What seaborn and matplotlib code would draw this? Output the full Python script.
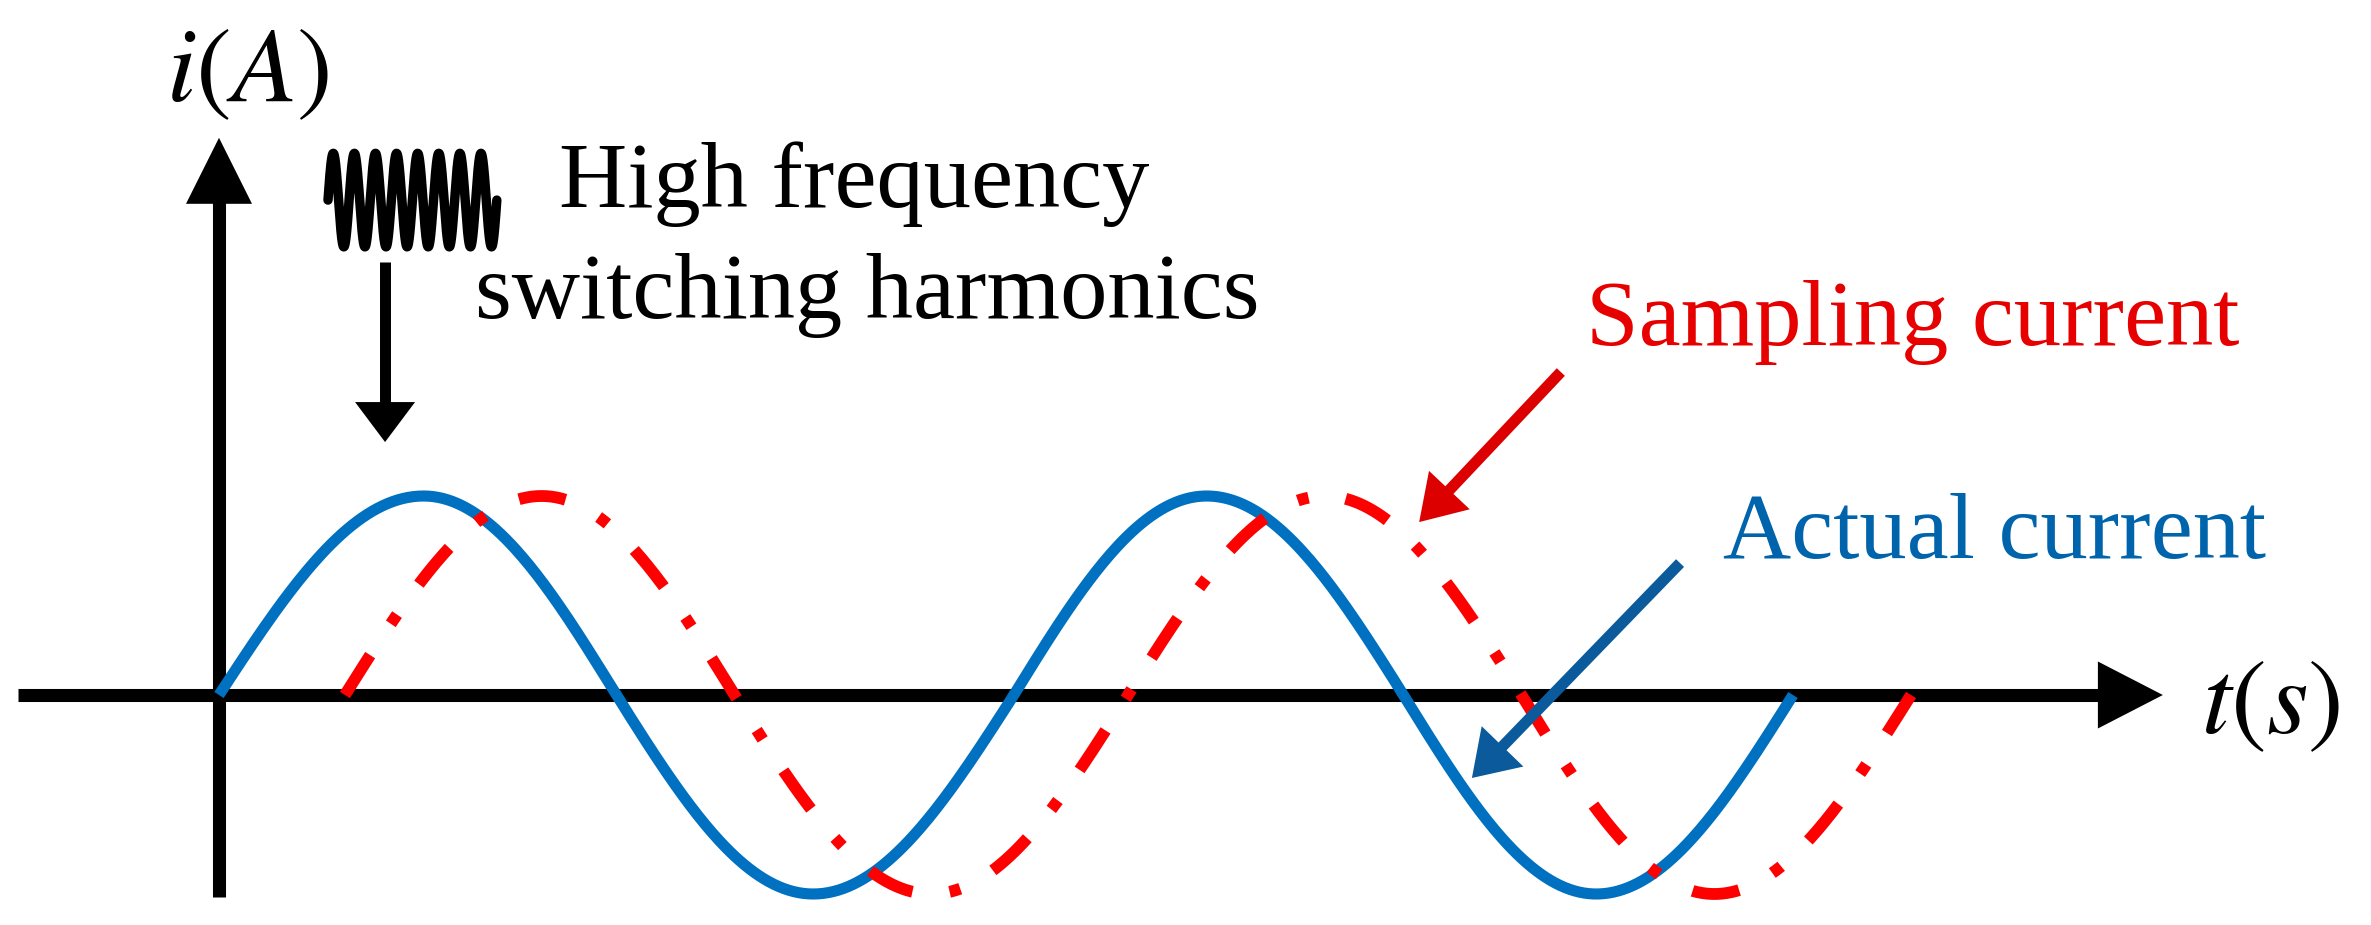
#!/usr/bin/env python3
"""
Sketch of sampled vs actual inverter current (sampling delay + switching ripple).
Output: out.png
"""
import numpy as np
import seaborn as sns
import matplotlib.pyplot as plt

# key points: time (ms) and current (per unit)
actual_t = [0.0, 5.2, 10.1, 15.1, 20.2, 25.1, 30.1, 35.0, 40.0]
actual_i = [0, 1, 0, -1, 0, 1, 0, -1, 0]
sampled_t = [3.2, 8.2, 13.1, 18.1, 23.1, 28.1, 33.1, 38.0, 43.0]
sampled_i = [0, 1, 0, -1, 0, 1, 0, -1, 0]

labels = {
    'y': r'$i(A)$',
    'x': r'$t(s)$',
    'hf1': 'High frequency',
    'hf2': 'switching harmonics',
    'sampled': 'Sampling current',
    'actual': 'Actual current',
}

BLUE = '#0070C0'
BLUE_TXT = '#0064AC'
BLUE_ARR = '#0A5A9C'
RED = '#FF0000'
RED_TXT = '#E60000'
RED_ARR = '#DD0000'

# image layout: origin of the sketch axes and scale (pixels)
W, H = 2371, 925
X0, Y0 = 219, 695
PX_MS, PX_PU = 39.35, 199.0

sns.set_theme(style='white')
plt.rcParams['font.family'] = ['Liberation Serif', 'DejaVu Serif']
plt.rcParams['mathtext.fontset'] = 'stix'
plt.rcParams['lines.scale_dashes'] = False
plt.rcParams['text.color'] = 'black'


def smooth_wave(t_pts, v_pts, n=80):
    """Join zero/peak key points with quarter-wave arcs."""
    ts, vs = [], []
    for (t0, v0), (t1, v1) in zip(zip(t_pts, v_pts), zip(t_pts[1:], v_pts[1:])):
        s = np.linspace(0, 1, n, endpoint=False)
        if v0 == 0:
            shape = v1 * np.sin(s * np.pi / 2)
        else:
            shape = v0 * np.cos(s * np.pi / 2)
        ts.extend(t0 + (t1 - t0) * s)
        vs.extend(shape)
    ts.append(t_pts[-1])
    vs.append(v_pts[-1])
    return np.array(ts), np.array(vs)


def arrow(ax, tail, tip, color, lw, head_len, head_w, z=3):
    """Straight arrow with a filled triangular head (head sizes in pixels)."""
    p0 = ax.transData.transform(tail)
    p1 = ax.transData.transform(tip)
    u = (p1 - p0) / np.hypot(*(p1 - p0))
    n = np.array([-u[1], u[0]])
    base = p1 - u * head_len
    inv = ax.transData.inverted()
    b = inv.transform(base + u * 2)
    ax.plot([tail[0], b[0]], [tail[1], b[1]], color=color, lw=lw,
            solid_capstyle='butt', zorder=z)
    head = inv.transform(np.array([p1, base + n * head_w / 2, base - n * head_w / 2]))
    ax.fill(head[:, 0], head[:, 1], color=color, lw=0, zorder=z)


fig = plt.figure(figsize=(W / 100, H / 100), dpi=100)
ax = fig.add_axes([0, 0, 1, 1])
ax.set_xlim(-X0 / PX_MS, (W - X0) / PX_MS)
ax.set_ylim(-(H - Y0) / PX_PU, Y0 / PX_PU)
ax.axis('off')

# coordinate axes
arrow(ax, (-5.11, 0), (49.40, 0), 'black', 9.4, 65, 67, z=1)
arrow(ax, (0, -1.015), (0, 2.80), 'black', 9.4, 66, 66, z=1)

# currents
bt, bi = smooth_wave(actual_t, actual_i)
rt, ri = smooth_wave(sampled_t, sampled_i)
sns.lineplot(x=bt, y=bi, ax=ax, color=BLUE, linewidth=8, sort=False,
             estimator=None, solid_capstyle='butt', zorder=2)
sns.lineplot(x=rt, y=ri, ax=ax, color=RED, linewidth=8.5, sort=False,
             estimator=None, linestyle=(0, (34, 27, 8, 27)), zorder=2.5)

# switching-ripple icon
s = np.linspace(0, 1, 1200)
ax.plot(2.77 + (7.06 - 2.77) * s, 2.487 + 0.235 * np.sin(2 * np.pi * 8 * s),
        color='black', lw=6.8, solid_joinstyle='round', zorder=3)
arrow(ax, (4.22, 2.176), (4.22, 1.271), 'black', 7.9, 40, 60)

# labels
fs = 68
ax.text(0.72, 3.116, labels['y'], fontsize=77, ha='center', va='center')
ax.text(52.15, -0.06, labels['x'], fontsize=77, ha='center', va='center')
ax.text(8.64, 2.452, labels['hf1'], fontsize=fs, ha='left', va='baseline')
ax.text(6.51, 1.894, labels['hf2'], fontsize=fs, ha='left', va='baseline')
ax.text(34.74, 1.759, labels['sampled'], fontsize=fs, color=RED_TXT,
        ha='left', va='baseline')
ax.text(38.22, 0.688, labels['actual'], fontsize=fs, color=BLUE_TXT,
        ha='left', va='baseline')

arrow(ax, (34.10, 1.623), (30.50, 0.869), RED_ARR, 8, 44, 56, z=4)
arrow(ax, (37.13, 0.663), (31.84, -0.417), BLUE_ARR, 8, 44, 58, z=4)

fig.savefig('out.png', dpi=100, facecolor='white')
